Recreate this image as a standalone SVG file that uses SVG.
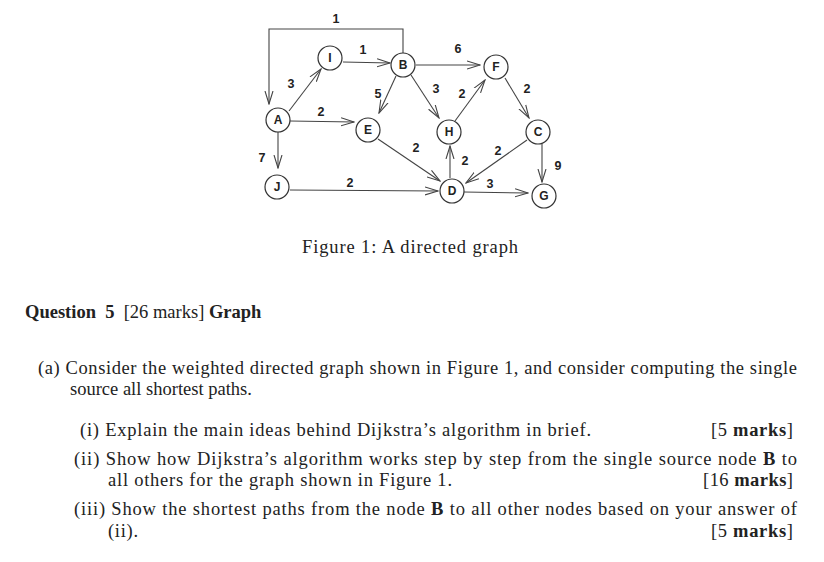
<svg xmlns="http://www.w3.org/2000/svg" width="824" height="562" viewBox="0 0 824 562">
<style>
.n circle{fill:#fff;stroke:#333;stroke-width:1.2}
.n text{font-family:"Liberation Sans",Arial,sans-serif;font-size:12px;font-weight:bold;text-anchor:middle;fill:#222}
.e line,.e polyline{stroke:#444;stroke-width:1.1;fill:none;marker-end:url(#a)}
.w{font-family:"Liberation Sans",Arial,sans-serif;font-size:12.5px;font-weight:bold;fill:#222;text-anchor:middle}
.t{font-family:"Liberation Serif","Times New Roman",serif;font-size:18.5px;fill:#222}
.b{font-weight:bold}
</style>
<defs><marker id="a" markerWidth="14" markerHeight="10" refX="13" refY="5" orient="auto" markerUnits="userSpaceOnUse"><path d="M0,1 L13,5 L0,9" fill="none" stroke="#444" stroke-width="1.1"/></marker></defs>
<rect width="824" height="562" fill="#fff"/>
<g class="e" id="connectors">
<polyline points="403,53 403,29 269,29 269,104"/>
<line x1="343" y1="62" x2="390" y2="63"/>
<line x1="289" y1="111" x2="321" y2="69"/>
<line x1="290" y1="121" x2="354" y2="122"/>
<line x1="278" y1="132" x2="278" y2="168"/>
<line x1="416" y1="65" x2="480" y2="65"/>
<line x1="396" y1="76" x2="379" y2="113"/>
<line x1="411" y1="75" x2="439" y2="118"/>
<line x1="455" y1="121" x2="485" y2="80"/>
<line x1="505" y1="78" x2="529" y2="118"/>
<line x1="378" y1="139" x2="440" y2="181"/>
<line x1="450" y1="178" x2="450" y2="146"/>
<line x1="527" y1="140" x2="466" y2="183"/>
<line x1="542" y1="144" x2="542" y2="182"/>
<line x1="290" y1="190" x2="438" y2="191"/>
<line x1="464" y1="192" x2="528" y2="193"/>
</g>
<g id="weights">
<text class="w" x="336" y="23">1</text>
<text class="w" x="363" y="54">1</text>
<text class="w" x="458" y="53">6</text>
<text class="w" x="291" y="88">3</text>
<text class="w" x="378" y="98">5</text>
<text class="w" x="436" y="93">3</text>
<text class="w" x="462" y="98">2</text>
<text class="w" x="527" y="93">2</text>
<text class="w" x="321" y="116">2</text>
<text class="w" x="416" y="152">2</text>
<text class="w" x="465" y="165">2</text>
<text class="w" x="498" y="155">2</text>
<text class="w" x="262" y="162">7</text>
<text class="w" x="558" y="170">9</text>
<text class="w" x="350" y="187">2</text>
<text class="w" x="490" y="188">3</text>
</g>
<g class="n" id="nI"><circle cx="330" cy="58" r="12"/><text x="330" y="62">I</text></g>
<g class="n" id="nB"><circle cx="403" cy="65" r="12"/><text x="403" y="69">B</text></g>
<g class="n" id="nF"><circle cx="496" cy="67" r="12"/><text x="496" y="71">F</text></g>
<g class="n" id="nA"><circle cx="278" cy="120" r="12"/><text x="278" y="124">A</text></g>
<g class="n" id="nE"><circle cx="368" cy="130" r="12"/><text x="368" y="134">E</text></g>
<g class="n" id="nH"><circle cx="449" cy="132" r="12"/><text x="449" y="136">H</text></g>
<g class="n" id="nC"><circle cx="538" cy="132" r="12"/><text x="538" y="136">C</text></g>
<g class="n" id="nJ"><circle cx="277" cy="187" r="12"/><text x="277" y="191">J</text></g>
<g class="n" id="nD"><circle cx="452" cy="191" r="12"/><text x="452" y="195">D</text></g>
<g class="n" id="nG"><circle cx="544" cy="196" r="12"/><text x="544" y="200">G</text></g>
<g id="text">
<text class="t" x="302" y="253" textLength="216">Figure 1: A directed graph</text>
<text class="t" x="25" y="318" xml:space="preserve"><tspan class="b">Question  5</tspan>  [26 marks] <tspan class="b">Graph</tspan></text>
<text class="t" x="38" y="374" textLength="759">(a) Consider the weighted directed graph shown in Figure 1, and consider computing the single</text>
<text class="t" x="70" y="395">source all shortest paths.</text>
<text class="t" x="80" y="436" textLength="511">(i) Explain the main ideas behind Dijkstra’s algorithm in brief.</text>
<text class="t" x="793" y="436" text-anchor="end" textLength="82">[5 <tspan class="b">marks</tspan>]</text>
<text class="t" x="74" y="465" textLength="723">(ii) Show how Dijkstra’s algorithm works step by step from the single source node <tspan class="b">B</tspan> to</text>
<text class="t" x="108" y="486" textLength="344">all others for the graph shown in Figure 1.</text>
<text class="t" x="793" y="486" text-anchor="end" textLength="90">[16 <tspan class="b">marks</tspan>]</text>
<text class="t" x="74" y="515" textLength="723">(iii) Show the shortest paths from the node <tspan class="b">B</tspan> to all other nodes based on your answer of</text>
<text class="t" x="108" y="537" textLength="30">(ii).</text>
<text class="t" x="793" y="537" text-anchor="end" textLength="82">[5 <tspan class="b">marks</tspan>]</text>
</g>
</svg>
